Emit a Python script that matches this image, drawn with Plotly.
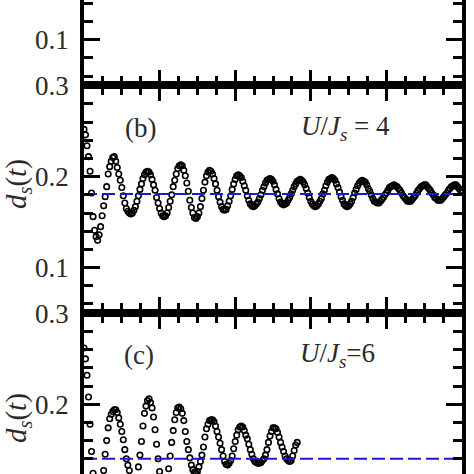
import numpy as np
import plotly.graph_objects as go

# sampling step of the time axis (t in units of 1/J_s)
dt = 0.2

# panel (b): U/J_s = 4
ds_b = [
    0.252, 0.246, 0.234, 0.222, 0.206, 0.182, 0.156, 0.141, 0.134, 0.130,
    0.136, 0.145, 0.157, 0.168, 0.178, 0.189, 0.203, 0.211, 0.217, 0.221, 0.222,
    0.217, 0.210, 0.203, 0.196, 0.188, 0.179, 0.171, 0.165, 0.162, 0.160, 0.159,
    0.160, 0.163, 0.167, 0.173, 0.179, 0.186, 0.192, 0.198, 0.202, 0.205, 0.206,
    0.205, 0.202, 0.197, 0.191, 0.185, 0.177, 0.171, 0.165, 0.160, 0.157, 0.156,
    0.157, 0.160, 0.166, 0.173, 0.180, 0.189, 0.196, 0.203, 0.209, 0.212, 0.213,
    0.212, 0.207, 0.201, 0.193, 0.184, 0.174, 0.166, 0.160, 0.155, 0.154,
    0.156, 0.160, 0.167, 0.176, 0.185, 0.194, 0.201, 0.205, 0.207,
    0.206, 0.203, 0.198, 0.192, 0.185, 0.178, 0.172, 0.167, 0.164, 0.163,
    0.164, 0.168, 0.173, 0.179, 0.186, 0.192, 0.197, 0.201, 0.202,
    0.201, 0.199, 0.195, 0.190, 0.185, 0.179, 0.174, 0.170, 0.168, 0.167,
    0.168, 0.170, 0.172, 0.176, 0.180, 0.185, 0.189, 0.193, 0.196, 0.197, 0.198,
    0.197, 0.195, 0.191, 0.186, 0.181, 0.176, 0.172, 0.170, 0.169,
    0.170, 0.171, 0.174, 0.177, 0.181, 0.185, 0.189, 0.192, 0.195, 0.196, 0.197,
    0.196, 0.194, 0.191, 0.187, 0.182, 0.177, 0.173, 0.170, 0.168, 0.167,
    0.168, 0.170, 0.173, 0.176, 0.181, 0.185, 0.190, 0.194, 0.197, 0.198, 0.199,
    0.198, 0.196, 0.192, 0.188, 0.183, 0.178, 0.174, 0.170, 0.168, 0.167,
    0.168, 0.170, 0.173, 0.177, 0.182, 0.186, 0.190, 0.193, 0.195, 0.196,
    0.195, 0.194, 0.191, 0.187, 0.184, 0.180, 0.176, 0.173, 0.172, 0.171,
    0.171, 0.173, 0.175, 0.177, 0.180, 0.182, 0.185, 0.188, 0.189, 0.190, 0.191,
    0.190, 0.189, 0.187, 0.185, 0.182, 0.179, 0.177, 0.175, 0.173, 0.173,
    0.173, 0.175, 0.177, 0.179, 0.182, 0.185, 0.187, 0.189, 0.190, 0.191,
    0.191, 0.189, 0.187, 0.185, 0.182, 0.180, 0.177, 0.176, 0.174, 0.174,
    0.174, 0.176, 0.178, 0.180, 0.182, 0.185, 0.187, 0.189, 0.190, 0.191,
    0.191, 0.189, 0.187, 0.185, 0.183,
]
ds_inf_b = 0.181

# panel (c): U/J_s = 6
ds_c = [
    0.262, 0.250, 0.232, 0.208, 0.178, 0.148, 0.124, 0.106, 0.095, 0.090,
    0.091, 0.098, 0.112, 0.127, 0.145, 0.160, 0.174, 0.184, 0.189, 0.192,
    0.194, 0.194, 0.191, 0.185, 0.178, 0.170, 0.161, 0.150, 0.140, 0.133,
    0.127, 0.119, 0.110, 0.106, 0.108, 0.118, 0.131, 0.144, 0.159, 0.176,
    0.190, 0.198, 0.204, 0.206, 0.202, 0.196, 0.186, 0.172, 0.156, 0.140,
    0.126, 0.114, 0.106, 0.103, 0.108, 0.119, 0.129, 0.143, 0.158, 0.171,
    0.183, 0.191, 0.196, 0.197, 0.195, 0.190, 0.182, 0.170, 0.159, 0.150,
    0.141, 0.133, 0.128, 0.125, 0.124, 0.126, 0.131, 0.137, 0.144, 0.153,
    0.164, 0.173, 0.178, 0.182, 0.183, 0.183, 0.181, 0.176, 0.170, 0.164,
    0.157, 0.150, 0.143, 0.137, 0.134, 0.133, 0.135, 0.138, 0.143, 0.151,
    0.159, 0.166, 0.172, 0.175, 0.176, 0.175, 0.171, 0.166, 0.162, 0.156,
    0.150, 0.145, 0.140, 0.137, 0.136, 0.135, 0.135, 0.136, 0.138, 0.140,
    0.144, 0.150, 0.158, 0.165, 0.170, 0.174, 0.174, 0.173, 0.169, 0.164,
    0.158, 0.153, 0.148, 0.143, 0.140, 0.138, 0.137, 0.138, 0.143, 0.149,
    0.155, 0.158,
]
ds_inf_c = 0.140

t_range = [0, 50]
labels_b = ["(b)", "<i>U</i>/<i>J</i><sub><i>s</i></sub> = 4"]
labels_c = ["(c)", "<i>U</i>/<i>J</i><sub><i>s</i></sub>=6"]
ytitle = "<i>d</i><sub><i>s</i></sub>(<i>t</i>)"

FONT = "Liberation Serif"
W = H = 474

t_b = np.round(np.arange(len(ds_b)) * dt, 2)
t_c = np.round(np.arange(len(ds_c)) * dt, 2)

fig = go.Figure()

# top panel (only its lower part is in view, no data there)
fig.add_trace(go.Scatter(x=[], y=[], xaxis="x", yaxis="y", showlegend=False))

marker = dict(symbol="circle-open", size=5.5, color="black", line=dict(width=1.6, color="black"))
dash_line = dict(color="#1a1ad0", width=2, dash="13px,5px")

fig.add_trace(go.Scatter(x=t_b, y=ds_b, mode="markers", marker=marker,
                         xaxis="x2", yaxis="y2", showlegend=False))
fig.add_trace(go.Scatter(x=t_range, y=[ds_inf_b, ds_inf_b], mode="lines", line=dash_line,
                         xaxis="x2", yaxis="y2", showlegend=False))

fig.add_trace(go.Scatter(x=t_c, y=ds_c, mode="markers", marker=marker,
                         xaxis="x3", yaxis="y3", showlegend=False))
fig.add_trace(go.Scatter(x=t_range, y=[ds_inf_c, ds_inf_c], mode="lines", line=dash_line,
                         xaxis="x3", yaxis="y3", showlegend=False))

xa = dict(
    range=t_range, showline=True, linewidth=3.5, linecolor="black",
    ticks="inside", ticklen=16, tickwidth=2.7, tickcolor="black",
    tick0=0, dtick=10, showticklabels=False, showgrid=False, zeroline=False,
    minor=dict(dtick=2.5, ticklen=10, tickwidth=2.7, tickcolor="black", ticks="inside"),
)
ya = dict(
    showline=True, linewidth=3.5, linecolor="black", mirror="ticks",
    ticks="inside", ticklen=16, tickwidth=2.7, tickcolor="black",
    tick0=0, dtick=0.1, tickformat=".1f", showgrid=False, zeroline=False,
    tickfont=dict(family=FONT, size=27, color="#2a2a2a"),
    ticklabelstandoff=6,
    minor=dict(dtick=0.02, ticklen=9, tickwidth=2.7, tickcolor="black", ticks="inside"),
)

left, right = 84, 12
d_c = (H - 313) / H
d_b = (H - 85.3) / H

fig.update_layout(
    width=W, height=H, autosize=False,
    margin=dict(l=left, r=right, t=0, b=0, pad=0, autoexpand=False),
    paper_bgcolor="white", plot_bgcolor="white",
    xaxis=dict(xa, anchor="y", mirror=False),
    xaxis2=dict(xa, anchor="y2", mirror="ticks"),
    xaxis3=dict(xa, anchor="y3", side="top", mirror=False),
    yaxis=dict(ya, anchor="x", domain=[d_b, 1], range=[0.05, 0.1437]),
    yaxis2=dict(ya, anchor="x2", domain=[d_c, d_b], range=[0.05, 0.3005]),
    yaxis3=dict(ya, anchor="x3", domain=[0, d_c], range=[0.1232, 0.3005]),
)

plot_w = W - left - right
ann_font = dict(family=FONT, size=27, color="#2a2a2a")
for text, px, py in [
    (labels_b[0], 140, 128), (labels_b[1], 345, 128),
    (labels_c[0], 139, 355), (labels_c[1], 337, 355),
]:
    fig.add_annotation(text=text, xref="paper", yref="paper",
                       x=(px - left) / plot_w, y=(H - py) / H,
                       xanchor="center", yanchor="middle", showarrow=False, font=ann_font)

for py in [184, 418]:
    fig.add_annotation(text=ytitle, xref="paper", yref="paper",
                       x=(18 - left) / plot_w, y=(H - py) / H, textangle=-90,
                       xanchor="center", yanchor="middle", showarrow=False,
                       font=dict(family=FONT, size=29, color="#2a2a2a"))

fig.write_html(
    "out.html",
    config={"displayModeBar": False},
    post_script="document.body.style.margin='0';document.body.style.overflow='hidden';",
)
